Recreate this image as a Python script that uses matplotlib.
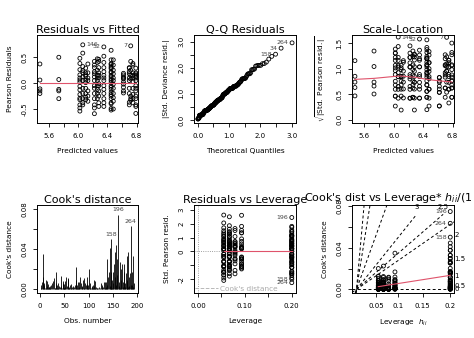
import numpy as np
import matplotlib.pyplot as plt
from matplotlib.lines import Line2D
from statistics import NormalDist

plt.rcParams['font.family'] = 'DejaVu Sans'
plt.rcParams['mathtext.fontset'] = 'dejavusans'
plt.rcParams['axes.unicode_minus'] = False

# design cells in observation order: predicted value and leverage h_ii
cell_fitted = [6.72, 5.47, 6.02, 5.73, 6.22, 6.28, 6.10, 6.35, 6.48, 6.06, 6.13,
               6.62, 6.75, 6.26, 6.45, 6.70, 6.79]
cell_leverage = [0.093, 0.093, 0.055, 0.093, 0.055, 0.079, 0.067, 0.067, 0.067,
                 0.055, 0.093, 0.079, 0.067, 0.2, 0.2, 0.2, 0.2]
# Pearson residuals (y - mu) / mu of the observations in each cell (Gamma glm)
cell_resid = [
    [0.15, -0.25, 0.08, -0.33, 0.72, 0.42, -0.30, 0.25],
    [0.06, -0.11, 0.37, -0.15, -0.20],
    [0.48, -0.06, 0.38, -0.13, 0.26, -0.22, 0.16, -0.29, 0.06, -0.32, 0.02, -0.42,
     -0.48, 0.10, -0.54],
    [0.07, -0.12, -0.15, 0.50, -0.30],
    [0.35, -0.20, 0.12, -0.42, 0.30, 0.05, -0.10, 0.22, -0.30, -0.59, 0.18, -0.05,
     0.42, -0.48],
    [0.30, -0.15, 0.10, -0.38, 0.20, -0.05, 0.46, -0.25, -0.01, 0.42, -0.45, 0.15],
    [0.20, -0.10, 0.29, 0.13, -0.32, 0.06, -0.20, 0.16, -0.27, 0.01],
    [0.22, -0.30, 0.05, 0.70, -0.45, 0.30, -0.12, 0.15, -0.38, 0.40, -0.20, 0.10,
     -0.05, 0.52],
    [0.10, -0.35, 0.25, -0.20, -0.02, 0.45, -0.50, 0.18, -0.10, 0.35, -0.28, 0.05],
    [0.58, -0.38, 0.32, 0.20, -0.10, 0.74, 0.12, -0.42, 0.05, -0.20, 0.24, -0.30],
    [0.10, -0.25, 0.37, 0.20, -0.15, 0.05, -0.35],
    [0.19, -0.08, 0.12, -0.15, 0.02, 0.16, -0.19, 0.08, -0.02, 0.10],
    [0.35, -0.10, 0.20, -0.30, 0.10, -0.22, 0.38, 0.03, -0.38, 0.15],
    [0.10, -0.20, 0.40, 0.15, -0.05, 0.25, -0.30, 0.05, -0.12, 0.47],
    [0.12, -0.30, -0.52, 0.22, -0.08, 0.30, -0.18, 0.37, 0.05, 0.45, -0.25, 0.15,
     -0.49, 0.28, -0.40, 0.01, 0.635, -0.12, 0.20, -0.38, 0.08, -0.22, 0.33,
     -0.05, 0.37],
    [0.10, -0.20, 0.30, -0.37, 0.18, -0.10, 0.05, 0.29, -0.42, 0.22],
    [0.20, -0.10, -0.45, 0.12, -0.25, 0.29, 0.05, -0.585, -0.15, 0.15, -0.30,
     -0.42, 0.10, -0.05, 0.18],
]
# row names of the observations that get labelled
labelled_obs = [5, 43, 73, 101, 147, 161, 187]
labelled_name = ["7", "34", "52", "146", "158", "196", "264"]

dispersion = 0.0841
n_coef = 20
cook_levels = [0, 0.5, 1, 1.5, 2, 2.5, 3]

# red smoothers
smooth1_x, smooth1_y = [5.47, 6.79], [0.0, 0.0]
smooth3_x = [5.47, 5.73, 6.02, 6.10, 6.30, 6.45, 6.62, 6.79]
smooth3_y = [0.79, 0.81, 0.85, 0.855, 0.83, 0.79, 0.76, 0.74]
smooth5_x, smooth5_y = [0.055, 0.2], [0.0, 0.0]
smooth6_x, smooth6_y = [0.058, 0.25], [0.0026, 0.0135]

fitted = np.concatenate([[f] * len(r) for f, r in zip(cell_fitted, cell_resid)])
lev = np.concatenate([[h] * len(r) for h, r in zip(cell_leverage, cell_resid)])
resid = np.concatenate(cell_resid)
n = len(resid)
obs = np.arange(1, n + 1)
names = {i: s for i, s in zip(labelled_obs, labelled_name)}

std_res = resid / np.sqrt(dispersion * (1 - lev))
dev = np.sign(resid) * np.sqrt(2 * (resid - np.log1p(resid)))
std_dev = dev / np.sqrt(dispersion * (1 - lev))
cook = std_res ** 2 * lev / (n_coef * (1 - lev))
g = lev / (1 - lev)

RED = '#DF536B'
TICK = 5
LAB = 5.3


def panel(rect):
    l, t, w, h = rect
    ax = fig.add_axes([l / 474, 1 - (t + h) / 338, w / 474, h / 338])
    for s in ax.spines.values():
        s.set_linewidth(0.7)
    ax.tick_params(direction='out', length=3, width=0.6, labelsize=TICK, pad=4)
    return ax


def ticks(ax, xt, xl, yt, yl):
    ax.set_xticks(xt)
    ax.set_xticklabels(xl)
    ax.set_yticks(yt)
    ax.set_yticklabels(yl, rotation=90, va='center')


def labels(ax, title, xlabel, ylabel):
    ax.set_title(title, fontsize=8, pad=1.2)
    ax.set_xlabel(xlabel, fontsize=LAB, labelpad=6.8)
    ax.set_ylabel(ylabel, fontsize=LAB, labelpad=6.3)


def pts(ax, x, y):
    ax.scatter(x, y, s=8, facecolors='none', edgecolors='black', linewidths=0.6,
               zorder=2)


def text_id(ax, x, y, idx, mid):
    for i in idx:
        right = x[i] > mid
        ax.annotate(names.get(obs[i], str(obs[i])), (x[i], y[i]),
                    xytext=(-2.5 if right else 2.5, 0), textcoords='offset points',
                    ha='right' if right else 'left', va='center', fontsize=4.5,
                    color='#444444', zorder=3)


fig = plt.figure(figsize=(4.74, 3.38), dpi=100)

fx_ticks = [5.6, 5.8, 6.0, 6.2, 6.4, 6.6, 6.8]
fx_labels = ['5.6', '', '6.0', '', '6.4', '', '6.8']
fmid = (fitted.min() + fitted.max()) / 2

# 1: Residuals vs Fitted
ax1 = panel((37, 35, 101, 88))
pts(ax1, fitted, resid)
ax1.plot(smooth1_x, smooth1_y, color=RED, lw=0.8)
ax1.set_xlim(5.43, 6.82)
ax1.set_ylim(-0.77, 0.93)
ticks(ax1, fx_ticks, fx_labels, [-0.5, 0, 0.5], ['-0.5', '0.0', '0.5'])
labels(ax1, 'Residuals vs Fitted', 'Predicted values', 'Pearson Residuals')
text_id(ax1, fitted, resid, np.argsort(-np.abs(resid))[:3], fmid)

# 2: Q-Q Residuals (half normal)
ax2 = panel((194, 35, 102, 88))
order = np.argsort(np.abs(std_dev))
qq_y = np.abs(std_dev)[order]
qq_x = np.array([NormalDist().inv_cdf(0.5 + 0.5 * (i - 0.5) / n)
                 for i in range(1, n + 1)])
pts(ax2, qq_x, qq_y)
ax2.set_xlim(-0.12, 3.14)
ax2.set_ylim(-0.12, 3.26)
half = [0, 0.5, 1, 1.5, 2, 2.5, 3]
hl = ['0.0', '', '1.0', '', '2.0', '', '3.0']
ticks(ax2, half, hl, half, hl)
labels(ax2, 'Q-Q Residuals', 'Theoretical Quantiles', '|Std. Deviance resid.|')
for k in range(1, 4):
    i = order[-k]
    ax2.annotate(names.get(obs[i], str(obs[i])), (qq_x[-k], qq_y[-k]),
                 xytext=(-2.5, 0), textcoords='offset points', ha='right',
                 va='center', fontsize=4.5, color='#444444')

# 3: Scale-Location
ax3 = panel((352, 35, 102, 88))
sl = np.sqrt(np.abs(std_res))
pts(ax3, fitted, sl)
ax3.plot(smooth3_x, smooth3_y, color=RED, lw=0.8)
ax3.set_xlim(5.43, 6.82)
ax3.set_ylim(-0.065, 1.66)
ticks(ax3, fx_ticks, fx_labels, [0, 0.5, 1, 1.5], ['0.0', '0.5', '1.0', '1.5'])
labels(ax3, 'Scale-Location', 'Predicted values',
       r'$\sqrt{|\mathrm{Std.\ Pearson\ resid.}|}$')
text_id(ax3, fitted, sl, np.argsort(-sl)[:3], fmid)

top_cook = np.argsort(-cook)[:3]

# 4: Cook's distance
ax4 = panel((37, 205, 101, 88))
ax4.vlines(obs, 0, cook, color='black', lw=0.6)
ax4.set_xlim(-6.7, 201.7)
ax4.set_ylim(-0.004, 0.0845)
ticks(ax4, [0, 50, 100, 150, 200], ['0', '50', '100', '150', '200'],
      [0, 0.02, 0.04, 0.06, 0.08], ['0.00', '', '0.04', '', '0.08'])
labels(ax4, "Cook's distance", 'Obs. number', "Cook's distance")
for i in top_cook:
    ax4.annotate(names.get(obs[i], str(obs[i])), (obs[i], cook[i]),
                 xytext=(0, 1.5), textcoords='offset points', ha='center',
                 va='bottom', fontsize=4.5, color='#444444')

# 5: Residuals vs Leverage
ax5 = panel((194, 205, 102, 88))
ax5.axhline(0, color='gray', ls=':', lw=0.6)
ax5.axvline(0, color='gray', ls=':', lw=0.6)
pts(ax5, lev, std_res)
ax5.plot(smooth5_x, smooth5_y, color=RED, lw=0.8)
ax5.set_xlim(-0.0084, 0.209)
ax5.set_ylim(-3.0, 3.35)
ticks(ax5, [0, 0.05, 0.1, 0.15, 0.2], ['0.00', '', '0.10', '', '0.20'],
      [-2, -1, 0, 1, 2, 3], ['-2', '', '0', '1', '2', '3'])
labels(ax5, 'Residuals vs Leverage', 'Leverage', 'Std. Pearson resid.')
text_id(ax5, lev, std_res, top_cook, lev.max() / 2)
ax5.legend([Line2D([], [], color='#b8b8b8', ls='--', lw=0.7)], ["Cook's distance"],
           loc='lower left', frameon=False, fontsize=LAB, labelcolor='#aaaaaa',
           handlelength=3, borderpad=0.1, borderaxespad=0.1, handletextpad=0.3)

# 6: Cook's dist vs Leverage
ax6 = panel((352, 205, 102, 88))
pts(ax6, g, cook)
ax6.plot(smooth6_x, smooth6_y, color=RED, lw=0.8)
ax6.set_xlim(-0.012, 0.26)
ax6.set_ylim(-0.0035, 0.0812)
hat = [0.05, 0.1, 0.15, 0.2]
ticks(ax6, [a / (1 - a) for a in hat], ['0.05', '0.1', '0.15', '0.2'],
      [0, 0.02, 0.04, 0.06, 0.08], ['0.00', '', '0.04', '', '0.08'])
labels(ax6, "Cook's dist vs Leverage* $h_{ii}/(1-h_{ii})$", 'Leverage  $h_{ii}$',
       "Cook's distance")
xmax = ax6.get_xlim()[1]
ymax = ax6.get_ylim()[1]
sh = 0.006
for b in cook_levels:
    b2 = b * b
    if n_coef * ymax > b2 * xmax:
        ax6.axline((0, 0), slope=b2, color='black', ls=(0, (3, 2.5)), lw=0.7)
        xi = xmax + 0.0018
        ax6.text(xi, b2 * xi / n_coef, f'{b:g}', ha='left', va='center',
                 fontsize=TICK, clip_on=False)
    else:
        yi = ymax - 1.5 * sh
        xi = n_coef * yi / b2
        ax6.plot([0, xi], [0, yi], color='black', ls=(0, (3, 2.5)), lw=0.7)
        ax6.text(xi, ymax - 0.8 * sh, f'{b:g}', ha='center', va='bottom',
                 fontsize=TICK)
text_id(ax6, g, cook, top_cook, g.max() / 2)

plt.savefig('out.png', dpi=100)
